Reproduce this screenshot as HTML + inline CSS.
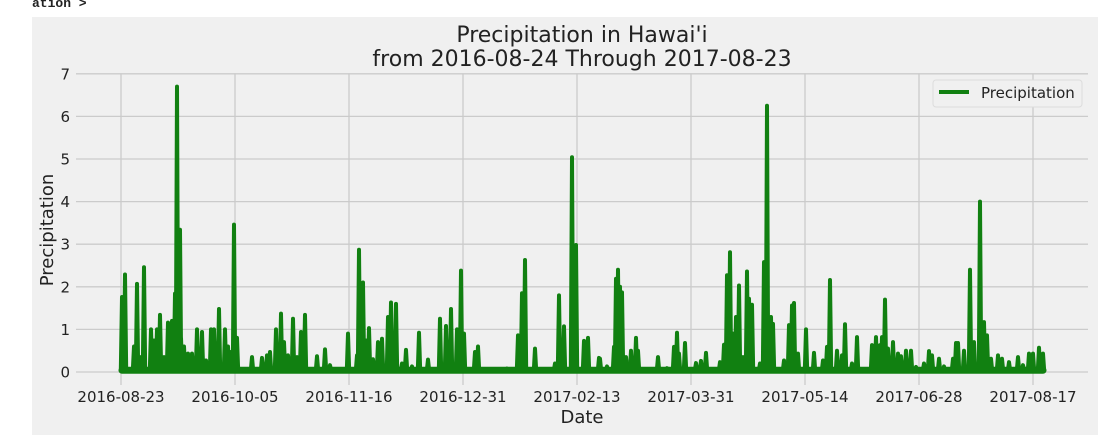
<!DOCTYPE html>
<html><head><meta charset="utf-8">
<style>
html,body{margin:0;padding:0;background:#fff;width:1116px;height:445px;overflow:hidden}
svg{display:block}
text{font-family:"DejaVu Sans","Liberation Sans",sans-serif;fill:#222}
</style></head>
<body>
<svg id="chart" width="1116" height="445">
<text x="32" y="7" style="font-family:'Liberation Mono',monospace;font-size:13px;font-weight:bold">ation &gt;</text>
<rect x="32" y="17" width="1066" height="418" fill="#f0f0f0"/>
<g id="grid"></g>
<g id="series"></g>
<g id="axes"></g>
<text x="582" y="42" text-anchor="middle" font-size="22">Precipitation in Hawai'i</text>
<text x="582" y="66" text-anchor="middle" font-size="22">from 2016-08-24 Through 2017-08-23</text>
<text x="582" y="423" text-anchor="middle" font-size="18">Date</text>
<text transform="translate(53,230) rotate(-90)" text-anchor="middle" font-size="18">Precipitation</text>
<g>
<rect x="933" y="80" width="149" height="27" rx="3" fill="#f0f0f0" stroke="#dcdcdc"/>
<line x1="939" y1="92" x2="969" y2="92" stroke="#118011" stroke-width="4"/>
<text x="981" y="98" font-size="15">Precipitation</text>
</g>
</svg>
<script>
const tickLabels=["2016-08-23","2016-10-05","2016-11-16","2016-12-31","2017-02-13","2017-03-31","2017-05-14","2017-06-28","2017-08-17"];
const tickPos=[0,114,228,342,456,570,684,798,912];
const yTicks=[0,1,2,3,4,5,6,7];
const obsX=[1,4,13,16,20,23,30,33,36,39,43,47,51,54,56,59,60,63,67,71,76,81,85,90,93,98,104,107,110,113,116,131,141,146,149,155,160,163,167,172,176,180,184,196,204,209,221,227,236,238,242,245,248,252,257,261,267,270,275,281,285,291,298,307,319,325,330,336,340,343,354,357,386,397,401,404,414,434,438,443,451,455,463,467,478,479,486,493,495,497,499,501,505,510,515,517,537,546,553,556,558,564,575,580,585,599,603,606,609,612,615,618,622,626,628,631,639,643,646,650,652,663,668,671,673,677,685,693,702,706,709,716,721,724,731,736,751,755,759,761,764,767,772,777,780,785,790,795,803,808,811,818,823,832,835,837,843,849,853,859,863,866,870,877,881,888,897,902,908,912,918,922];
const obsVal=[1.76,2.29,0.6,2.07,0.35,2.46,1.0,0.74,1.0,1.34,0.35,1.16,1.2,1.84,6.7,3.34,0.8,0.6,0.43,0.43,1.0,0.94,0.27,1.0,1.0,1.48,1.0,0.6,0.47,3.46,0.8,0.35,0.33,0.39,0.47,1.0,1.37,0.7,0.39,1.25,0.35,0.94,1.34,0.37,0.53,0.16,0.05,0.9,0.39,2.87,2.1,0.74,1.03,0.3,0.7,0.78,1.29,1.63,1.6,0.2,0.52,0.13,0.92,0.29,1.25,1.08,1.48,1.0,2.38,0.9,0.47,0.6,0.08,0.86,1.85,2.63,0.55,0.2,1.8,1.07,5.04,2.98,0.73,0.8,0.33,0.31,0.13,0.59,2.19,2.4,2.0,1.87,0.35,0.5,0.8,0.5,0.35,0.09,0.59,0.92,0.43,0.68,0.21,0.26,0.45,0.23,0.64,2.27,2.81,0.9,1.29,2.03,0.35,2.36,1.72,1.58,0.2,2.58,6.25,1.29,1.13,0.27,1.1,1.56,1.62,0.43,1.0,0.45,0.27,0.59,2.16,0.5,0.39,1.12,0.2,0.82,0.63,0.82,0.63,0.82,1.7,0.55,0.7,0.43,0.37,0.5,0.5,0.12,0.2,0.49,0.39,0.31,0.13,0.31,0.68,0.68,0.5,2.4,0.7,4.0,1.17,0.86,0.31,0.39,0.31,0.23,0.35,0.16,0.43,0.43,0.57,0.43];
const ns="http://www.w3.org/2000/svg";
const X0=121,Y0=372,PXX=1,PXY=42.6;
function xs(v){return X0+v*PXX;}
function ys(v){return Y0-v*PXY;}
const grid=document.getElementById('grid'),axes=document.getElementById('axes'),series=document.getElementById('series');
yTicks.forEach(t=>{
  const l=document.createElementNS(ns,'line');
  l.setAttribute('x1',76);l.setAttribute('x2',1088);l.setAttribute('y1',ys(t));l.setAttribute('y2',ys(t));
  l.setAttribute('stroke','#cbcbcb');l.setAttribute('stroke-width','1.3');
  
  
  grid.appendChild(l);
  const tx=document.createElementNS(ns,'text');
  tx.setAttribute('x',70);tx.setAttribute('y',ys(t)+5.5);tx.setAttribute('text-anchor','end');tx.setAttribute('font-size','15');
  tx.textContent=t;
  
  
  axes.appendChild(tx);
});
tickPos.forEach((p,i)=>{
  const l=document.createElementNS(ns,'line');
  l.setAttribute('x1',xs(p));l.setAttribute('x2',xs(p));l.setAttribute('y1',ys(7));l.setAttribute('y2',385);
  l.setAttribute('stroke','#cbcbcb');l.setAttribute('stroke-width','1.3');
  
  
  grid.appendChild(l);
  const tx=document.createElementNS(ns,'text');
  tx.setAttribute('x',xs(p));tx.setAttribute('y',402);tx.setAttribute('text-anchor','middle');tx.setAttribute('font-size','15');
  tx.textContent=tickLabels[i];
  
  
  axes.appendChild(tx);
});
const base=document.createElementNS(ns,'line');
base.setAttribute('x1',xs(obsX[0]));base.setAttribute('x2',xs(obsX[obsX.length-1]));
base.setAttribute('y1',ys(0.04));base.setAttribute('y2',ys(0.04));
base.setAttribute('stroke','#118011');base.setAttribute('stroke-width','7');base.setAttribute('stroke-linecap','round');


series.appendChild(base);
let d='';
obsX.forEach((x,i)=>{
  const v=obsVal[i];
  d+=(i?'L':'M')+(xs(x)-1.2)+','+ys(0.03)+'L'+xs(x)+','+ys(v)+'L'+(xs(x)+1.2)+','+ys(0.03);
});
const path=document.createElementNS(ns,'path');
path.setAttribute('d',d);path.setAttribute('fill','none');path.setAttribute('stroke','#118011');
path.setAttribute('stroke-width','4');path.setAttribute('stroke-linejoin','round');path.setAttribute('stroke-linecap','round');


series.appendChild(path);
</script>
</body></html>
